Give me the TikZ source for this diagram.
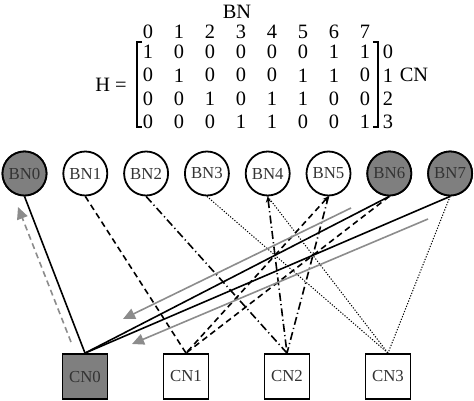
\documentclass[tikz,border=0pt]{standalone}
\usepackage{fontspec}
\setmainfont{Liberation Serif}
\usetikzlibrary{arrows.meta}

\definecolor{nodegray}{HTML}{7F7F7F}
\definecolor{arrowgray}{HTML}{8C8C8C}
\definecolor{labeltext}{HTML}{333333}

\tikzset{
  bn/.style={circle, draw, line width=0.9pt, minimum size=22pt, inner sep=0pt,
    font=\fontsize{8.4}{9}\selectfont, text=labeltext},
  cn/.style={rectangle, draw, line width=0.9pt, minimum size=22.5pt, inner sep=0pt,
    font=\fontsize{8.4}{9}\selectfont, text=labeltext},
  hot/.style={fill=nodegray},
  entry/.style={inner sep=0pt, font=\fontsize{10.2}{12}\selectfont},
  solidedge/.style={line width=0.8pt},
  dashedge/.style={line width=0.8pt, dash pattern=on 3pt off 2pt},
  dotdashedge/.style={line width=0.8pt, dash pattern=on 4pt off 1.6pt on 0.6pt off 1.6pt},
  dotedge/.style={line width=0.5pt, dash pattern=on 0.6pt off 0.8pt},
  tipin/.style={{Stealth[length=3pt,width=2.6pt]}-},
  dashtip/.style={dashedge, tipin},
  dotdashtip/.style={dotdashedge, tipin},
  flow/.style={arrowgray, line width=0.8pt, -{Triangle[length=6pt,width=5.5pt]}}
}

\begin{document}
\begin{tikzpicture}[x=0.5pt, y=-0.5pt]
  \useasboundingbox (0,0) rectangle (474,400);

  % parity check matrix
  \node[entry] (bnhead) at (237,12) {BN};
  \node[entry] (heq) at (111,85) {H =};
  \foreach \c in {0,...,7}{
    \node[entry] (col\c) at (148+31*\c,32) {\c};
  }
  \foreach \r/\row in {0/{1,0,0,0,0,0,1,1}, 1/{0,1,0,0,0,1,1,0},
                       2/{0,0,1,0,1,1,0,0}, 3/{0,0,0,1,1,0,0,1}}{
    \foreach \v [count=\c from 0] in \row{
      \node[entry] (h\r\c) at (148+31*\c,52+23.3*\r) {\v};
    }
    \node[entry] (row\r) at (388,52+23.3*\r) {\r};
  }
  \node[entry] (cnhead) at (414,75) {CN};
  \draw[line width=1pt] (142,42) -- (137,42) -- (137,127) -- (142,127);
  \draw[line width=1pt] (373,42) -- (378,42) -- (378,127) -- (373,127);

  % bit nodes and check nodes
  \foreach \i in {0,...,7}{
    \node[bn] (bn\i) at (24.5+60.8*\i,173.5) {BN\i};
  }
  \foreach \j in {0,...,3}{
    \node[cn] (cn\j) at (85+101*\j,376.5) {CN\j};
  }
  \node[bn,hot] at (bn0) {BN0};
  \node[bn,hot] at (bn6) {BN6};
  \node[bn,hot] at (bn7) {BN7};
  \node[cn,hot] at (cn0) {CN0};

  % edges of the Tanner graph
  \foreach \b/\c/\s in {0/0/solidedge, 6/0/solidedge, 7/0/solidedge,
                        1/1/dashedge, 5/1/dashtip, 6/1/dashedge,
                        2/2/dotdashedge, 4/2/dotdashtip, 5/2/dotdashedge,
                        3/3/dotedge, 4/3/dotedge, 7/3/dotedge}{
    \draw[\s] (bn\b.south) -- (cn\c.north);
  }

  % messages
  \coordinate (m0s) at (71,342);
  \coordinate (m0e) at (18,207);
  \coordinate (m6s) at (351,208);
  \coordinate (m6e) at (123,319);
  \coordinate (m7s) at (428,219);
  \coordinate (m7e) at (132,344);
  \draw[flow, dash pattern=on 3pt off 2pt] (m0s) -- (m0e);
  \draw[flow] (m6s) -- (m6e);
  \draw[flow] (m7s) -- (m7e);
\end{tikzpicture}
\end{document}
